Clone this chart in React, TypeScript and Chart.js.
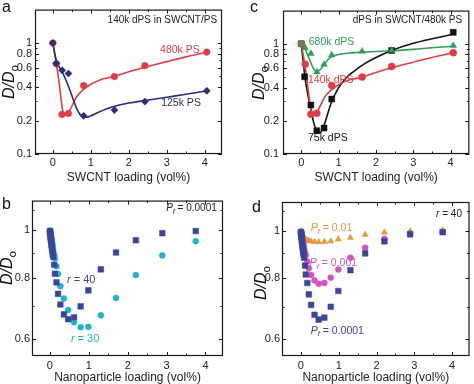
import React, { useEffect, useRef } from "react";
import { Chart, registerables } from "chart.js";
Chart.register(...registerables);

const FONT = '"Liberation Sans", Arial, Helvetica, sans-serif';

// ---------------- Panel a : 140k dPS in SWCNT/PS ----------------
const aLoading480kPS = [0, 0.09, 0.24, 0.41, 0.81, 1.62, 2.42, 4.05];
const aRatio480kPS = [1.0, 0.65, 0.227, 0.232, 0.414, 0.498, 0.625, 0.828];
const aLoading125kPS = [0, 0.09, 0.245, 0.41, 0.81, 1.62, 2.42, 4.05];
const aRatio125kPS = [1.0, 0.655, 0.567, 0.531, 0.221, 0.249, 0.297, 0.371];
const aFitLoading480k = [0, 0.05, 0.1, 0.15, 0.2, 0.25, 0.32, 0.41, 0.5, 0.63, 0.8, 1.0, 1.24, 1.62, 2.0, 2.42, 3.0, 3.5, 4.05];
const aFitRatio480k = [1.0, 0.8, 0.63, 0.48, 0.35, 0.255, 0.224, 0.235, 0.27, 0.33, 0.38, 0.425, 0.465, 0.5, 0.55, 0.605, 0.68, 0.75, 0.825];
const aFitLoading125k = [0, 0.05, 0.1, 0.2, 0.28, 0.36, 0.45, 0.55, 0.63, 0.72, 0.8, 0.9, 1.0, 1.2, 1.6, 2.0, 2.42, 3.0, 3.5, 4.05];
const aFitRatio125k = [1.0, 0.8, 0.68, 0.58, 0.52, 0.45, 0.376, 0.3, 0.255, 0.226, 0.215, 0.215, 0.221, 0.238, 0.268, 0.288, 0.303, 0.325, 0.345, 0.37];

// ---------------- Panel c : dPS in SWCNT/480k PS ----------------
const cLoading680k = [0, 0.106, 0.257, 0.416, 0.61, 0.815, 1.63, 2.42, 4.07];
const cRatio680k = [1.0, 0.917, 0.815, 0.554, 0.649, 0.79, 0.855, 0.871, 0.962];
const cLoading140k = [0, 0.106, 0.257, 0.416, 0.815, 1.63, 2.42, 4.07];
const cRatio140k = [1.0, 0.653, 0.23, 0.234, 0.418, 0.499, 0.623, 0.831];
const cLoading75k = [0, 0.09, 0.257, 0.416, 0.61, 0.815, 2.42, 4.07];
const cRatio75k = [1.0, 0.502, 0.278, 0.163, 0.172, 0.315, 0.87, 1.27];
const cFitLoading680k = [0, 0.1, 0.2, 0.3, 0.4, 0.5, 0.6, 0.7, 0.8, 1.0, 1.3, 1.63, 2.0, 2.42, 3.0, 3.5, 4.07];
const cFitRatio680k = [1.0, 0.9, 0.75, 0.62, 0.56, 0.58, 0.64, 0.71, 0.76, 0.8, 0.825, 0.84, 0.85, 0.865, 0.89, 0.92, 0.95];
const cFitLoading140k = [0, 0.05, 0.1, 0.15, 0.2, 0.25, 0.32, 0.41, 0.5, 0.63, 0.8, 1.0, 1.24, 1.63, 2.0, 2.42, 3.0, 3.5, 4.07];
const cFitRatio140k = [1.0, 0.8, 0.63, 0.48, 0.35, 0.255, 0.224, 0.235, 0.27, 0.33, 0.38, 0.425, 0.465, 0.5, 0.55, 0.605, 0.68, 0.75, 0.83];
const cFitLoading75k = [0, 0.05, 0.1, 0.18, 0.25, 0.32, 0.4, 0.48, 0.56, 0.65, 0.8, 1.0, 1.2, 1.4, 1.7, 2.0, 2.42, 3.0, 3.5, 4.07];
const cFitRatio75k = [1.0, 0.7, 0.49, 0.34, 0.265, 0.2, 0.165, 0.155, 0.165, 0.2, 0.29, 0.4, 0.49, 0.56, 0.66, 0.75, 0.87, 1.01, 1.11, 1.22];

// ---------------- Panels b and d : nanoparticle loading ----------------
const npLoading = [0.002, 0.005, 0.008, 0.012, 0.016, 0.02, 0.025, 0.03, 0.036, 0.043, 0.05, 0.058, 0.066, 0.075, 0.086, 0.11, 0.13, 0.17, 0.21, 0.27, 0.36, 0.47, 0.62, 0.79, 0.99, 1.31, 1.7, 2.21, 2.89, 3.75];
const ratioR40Pf0001 = [0.995, 0.99, 0.985, 0.979, 0.973, 0.966, 0.958, 0.95, 0.941, 0.932, 0.922, 0.912, 0.903, 0.893, 0.882, 0.85, 0.815, 0.783, 0.742, 0.706, 0.674, 0.659, 0.665, 0.7, 0.754, 0.832, 0.9, 0.953, 0.985, 0.995];
const ratioR30Pf0001 = [0.997, 0.994, 0.991, 0.987, 0.983, 0.979, 0.974, 0.969, 0.963, 0.956, 0.949, 0.941, 0.933, 0.924, 0.906, 0.89, 0.875, 0.844, 0.814, 0.769, 0.726, 0.688, 0.65, 0.635, 0.636, 0.671, 0.728, 0.81, 0.888, 0.949];
const ratioR40Pf001 = [0.998, 0.996, 0.993, 0.99, 0.986, 0.982, 0.977, 0.972, 0.966, 0.96, 0.953, 0.946, 0.938, 0.93, 0.92, 0.905, 0.893, 0.866, 0.839, 0.813, 0.792, 0.78, 0.783, 0.803, 0.834, 0.882, 0.925, 0.964, 0.989, 0.997];
const ratioR40Pf01 = [1.0, 0.998, 0.996, 0.994, 0.992, 0.99, 0.988, 0.985, 0.983, 0.98, 0.978, 0.975, 0.973, 0.97, 0.968, 0.964, 0.961, 0.958, 0.955, 0.953, 0.951, 0.95, 0.951, 0.953, 0.962, 0.969, 0.983, 0.994, 1.0, 1.003];

// ---------------- Ticks ----------------
const xTickValues = [0, 1, 2, 3, 4];
const xMinorTickValues = [0.5, 1.5, 2.5, 3.5];
const yTicksSwcnt = [0.1, 0.2, 0.4, 0.6, 0.8, 1];
const yMinorSwcnt = [0.3, 0.5, 0.7, 0.9];
const yTicksNano = [0.6, 0.8, 1];
const yMinorNano = [0.7, 0.9, 1.1];

// ---------------- Colours ----------------
const RED = "#e03d45";
const NAVY = "#2b2b7c";
const GREEN = "#2e9e5b";
const BLACK = "#111111";
const SQ_BLUE = "#3a4698";
const CYAN = "#22b4c8";
const MAGENTA = "#d452c0";
const ORANGE = "#e8963a";

type Seg = { t: string; it?: boolean; sub?: boolean };
type Note = { segs: Seg[]; x: number; y: number; color: string; align: "left" | "right" | "center"; size: number };

const pts = (xs: number[], ys: number[]) => xs.map((x, i) => ({ x, y: ys[i] }));
const markers = (xs: number[], ys: number[], color: string, style: string, r: number) => ({
  data: pts(xs, ys),
  showLine: false,
  pointStyle: style,
  pointRadius: r,
  pointHoverRadius: r,
  backgroundColor: color,
  borderColor: color,
  borderWidth: 0.5,
});
const fit = (xs: number[], ys: number[], color: string) => ({
  data: pts(xs, ys),
  showLine: true,
  pointRadius: 0,
  pointHoverRadius: 0,
  borderColor: color,
  backgroundColor: color,
  borderWidth: 1.6,
  cubicInterpolationMode: "monotone",
  fill: false,
});

function drawRich(ctx: CanvasRenderingContext2D, segs: Seg[], x: number, y: number, size: number, color: string, align: string) {
  const fontFor = (s: Seg) => `${s.it ? "italic " : ""}${s.sub ? size * 0.72 : size}px ${FONT}`;
  let total = 0;
  for (const s of segs) {
    ctx.font = fontFor(s);
    total += ctx.measureText(s.t).width;
  }
  let cx = align === "right" ? x - total : align === "center" ? x - total / 2 : x;
  ctx.fillStyle = color;
  ctx.textBaseline = "middle";
  ctx.textAlign = "left";
  for (const s of segs) {
    ctx.font = fontFor(s);
    ctx.fillText(s.t, cx, s.sub ? y + size * 0.32 : y);
    cx += ctx.measureText(s.t).width;
  }
}

interface Spec {
  width: number;
  height: number;
  padding: { left: number; right: number; top: number; bottom: number };
  yAxisWidth: number;
  xAxisHeight: number;
  xMin: number;
  xMax: number;
  yMin: number;
  yMax: number;
  yTicks: number[];
  yMinor: number[];
  xTitle: string;
  xTickPad: number;
  yTickPad: number;
  titlePadBottom: number;
  datasets: any[];
  notes: Note[];
  letter: { t: string; x: number; y: number };
  yTitle: { x: number; y: number };
}

function decorations(spec: Spec) {
  return {
    id: "decor",
    afterDatasetsDraw(chart: any) {
      const ctx: CanvasRenderingContext2D = chart.ctx;
      const { left, right, top, bottom } = chart.chartArea;
      const xs = chart.scales.x;
      const ys = chart.scales.y;
      ctx.save();
      ctx.strokeStyle = "#1a1a1a";
      ctx.lineWidth = 1.2;
      ctx.strokeRect(left + 0.5, top + 0.5, right - left - 1, bottom - top - 1);
      ctx.lineWidth = 1;
      ctx.beginPath();
      const xTick = (vals: number[], len: number) => {
        for (const v of vals) {
          const px = Math.round(xs.getPixelForValue(v)) + 0.5;
          ctx.moveTo(px, bottom);
          ctx.lineTo(px, bottom - len);
          ctx.moveTo(px, top);
          ctx.lineTo(px, top + len);
        }
      };
      const yTick = (vals: number[], len: number) => {
        for (const v of vals) {
          const py = Math.round(ys.getPixelForValue(v)) + 0.5;
          ctx.moveTo(left, py);
          ctx.lineTo(left + len, py);
          ctx.moveTo(right, py);
          ctx.lineTo(right - len, py);
        }
      };
      xTick(xTickValues, 4);
      xTick(xMinorTickValues, 2.5);
      yTick(spec.yTicks, 4);
      yTick(spec.yMinor, 2.5);
      ctx.stroke();

      for (const n of spec.notes) {
        drawRich(ctx, n.segs, xs.getPixelForValue(n.x), ys.getPixelForValue(n.y), n.size, n.color, n.align);
      }

      // y-axis title D/Do, rotated
      ctx.save();
      ctx.translate(spec.yTitle.x, spec.yTitle.y);
      ctx.rotate(-Math.PI / 2);
      drawRich(ctx, [{ t: "D/D", it: true }, { t: "o", sub: true }], 0, 0, 16, "#111", "center");
      ctx.restore();

      // panel letter
      ctx.font = `16px ${FONT}`;
      ctx.fillStyle = "#111";
      ctx.textAlign = "left";
      ctx.textBaseline = "alphabetic";
      ctx.fillText(spec.letter.t, spec.letter.x, spec.letter.y);
      ctx.restore();
    },
  };
}

function makeConfig(spec: Spec): any {
  return {
    type: "scatter",
    data: { datasets: spec.datasets },
    plugins: [decorations(spec)],
    options: {
      animation: false,
      responsive: false,
      devicePixelRatio: 1,
      layout: { padding: spec.padding },
      plugins: { legend: { display: false }, tooltip: { enabled: false } },
      scales: {
        x: {
          type: "linear",
          min: spec.xMin,
          max: spec.xMax,
          afterBuildTicks: (s: any) => {
            s.ticks = xTickValues.map((v) => ({ value: v }));
          },
          afterFit: (s: any) => {
            s.height = spec.xAxisHeight;
          },
          grid: { display: false, drawTicks: false },
          border: { display: false },
          ticks: {
            autoSkip: false,
            maxRotation: 0,
            padding: spec.xTickPad,
            color: "#222",
            font: { family: FONT, size: 11 },
            callback: (v: number) => String(v),
          },
          title: {
            display: true,
            text: spec.xTitle,
            color: "#222",
            font: { family: FONT, size: 12 },
            padding: { top: 0, bottom: spec.titlePadBottom },
          },
        },
        y: {
          type: "logarithmic",
          min: spec.yMin,
          max: spec.yMax,
          afterBuildTicks: (s: any) => {
            s.ticks = spec.yTicks.map((v) => ({ value: v }));
          },
          afterFit: (s: any) => {
            s.width = spec.yAxisWidth;
          },
          grid: { display: false, drawTicks: false },
          border: { display: false },
          ticks: {
            autoSkip: false,
            padding: spec.yTickPad,
            color: "#222",
            font: { family: FONT, size: 11 },
            callback: (v: number) => String(v),
          },
        },
      },
    },
  };
}

const specA: Spec = {
  width: 237,
  height: 192,
  padding: { left: 0, right: 15, top: 1, bottom: 0 },
  yAxisWidth: 35,
  xAxisHeight: 38,
  xMin: -0.47,
  xMax: 4.45,
  yMin: 0.1,
  yMax: 2,
  yTicks: yTicksSwcnt,
  yMinor: yMinorSwcnt,
  xTitle: "SWCNT loading (vol%)",
  xTickPad: 2,
  yTickPad: 3,
  titlePadBottom: 7,
  datasets: [
    markers(aLoading125kPS, aRatio125kPS, NAVY, "rectRot", 3.6),
    markers(aLoading480kPS, aRatio480kPS, RED, "circle", 3.3),
    fit(aFitLoading125k, aFitRatio125k, NAVY),
    fit(aFitLoading480k, aFitRatio480k, RED),
  ],
  notes: [
    { segs: [{ t: "140k dPS in SWCNT/PS" }], x: 4.32, y: 1.62, color: "#222", align: "right", size: 10 },
    { segs: [{ t: "480k PS" }], x: 2.82, y: 0.867, color: RED, align: "left", size: 10.5 },
    { segs: [{ t: "125k PS" }], x: 2.85, y: 0.29, color: NAVY, align: "left", size: 10.5 },
  ],
  letter: { t: "a", x: 2, y: 12 },
  yTitle: { x: 10, y: 82 },
};

const specC: Spec = {
  width: 237,
  height: 192,
  padding: { left: 0, right: 3, top: 1, bottom: 0 },
  yAxisWidth: 46,
  xAxisHeight: 38,
  xMin: -0.49,
  xMax: 4.5,
  yMin: 0.1,
  yMax: 2,
  yTicks: yTicksSwcnt,
  yMinor: yMinorSwcnt,
  xTitle: "SWCNT loading (vol%)",
  xTickPad: 2,
  yTickPad: 4,
  titlePadBottom: 7,
  datasets: [
    markers(cLoading680k, cRatio680k, GREEN, "triangle", 3.8),
    markers(cLoading140k, cRatio140k, RED, "circle", 3.5),
    markers(cLoading75k, cRatio75k, BLACK, "rect", 4.2),
    fit(cFitLoading680k, cFitRatio680k, GREEN),
    fit(cFitLoading140k, cFitRatio140k, RED),
    fit(cFitLoading75k, cFitRatio75k, BLACK),
  ],
  notes: [
    { segs: [{ t: "dPS in SWCNT/480k PS" }], x: 4.31, y: 1.64, color: "#222", align: "right", size: 10 },
    { segs: [{ t: "680k dPS" }], x: 0.2, y: 1.03, color: GREEN, align: "left", size: 10.5 },
    { segs: [{ t: "140k dPS" }], x: 0.18, y: 0.467, color: RED, align: "left", size: 10.5 },
    { segs: [{ t: "75k dPS" }], x: 0.18, y: 0.138, color: BLACK, align: "left", size: 10.5 },
  ],
  letter: { t: "c", x: 13, y: 12 },
  yTitle: { x: 23, y: 83 },
};

const specB: Spec = {
  width: 237,
  height: 200,
  padding: { left: 0, right: 14, top: 8, bottom: 0 },
  yAxisWidth: 32,
  xAxisHeight: 36,
  xMin: -0.46,
  xMax: 4.45,
  yMin: 0.555,
  yMax: 1.147,
  yTicks: yTicksNano,
  yMinor: yMinorNano,
  xTitle: "Nanoparticle loading (vol%)",
  xTickPad: 3,
  yTickPad: 2,
  titlePadBottom: 7,
  datasets: [
    markers(npLoading, ratioR40Pf0001, SQ_BLUE, "rect", 4),
    markers(npLoading, ratioR30Pf0001, CYAN, "circle", 3),
  ],
  notes: [
    { segs: [{ t: "P", it: true }, { t: "f", it: true, sub: true }, { t: " = 0.0001" }], x: 4.29, y: 1.106, color: "#222", align: "right", size: 10 },
    { segs: [{ t: "r", it: true }, { t: " = 40" }], x: 0.44, y: 0.791, color: SQ_BLUE, align: "left", size: 11 },
    { segs: [{ t: "r", it: true }, { t: " = 30" }], x: 0.54, y: 0.601, color: CYAN, align: "left", size: 11 },
  ],
  letter: { t: "b", x: 2, y: 17 },
  yTitle: { x: 8, y: 76 },
};

const specD: Spec = {
  width: 237,
  height: 200,
  padding: { left: 0, right: 2, top: 10, bottom: 0 },
  yAxisWidth: 45,
  xAxisHeight: 36,
  xMin: -0.5,
  xMax: 4.46,
  yMin: 0.555,
  yMax: 1.147,
  yTicks: yTicksNano,
  yMinor: yMinorNano,
  xTitle: "Nanoparticle loading (vol%)",
  xTickPad: 3,
  yTickPad: 2,
  titlePadBottom: 7,
  datasets: [
    markers(npLoading, ratioR40Pf0001, SQ_BLUE, "rect", 4),
    markers(npLoading, ratioR40Pf001, MAGENTA, "circle", 3),
    markers(npLoading, ratioR40Pf01, ORANGE, "triangle", 3.6),
  ],
  notes: [
    { segs: [{ t: "r", it: true }, { t: " = 40" }], x: 4.26, y: 1.083, color: "#222", align: "right", size: 10 },
    { segs: [{ t: "P", it: true }, { t: "f", it: true, sub: true }, { t: " = 0.01" }], x: 0.26, y: 1.014, color: ORANGE, align: "left", size: 10.5 },
    { segs: [{ t: "P", it: true }, { t: "f", it: true, sub: true }, { t: " = 0.001" }], x: 0.235, y: 0.86, color: MAGENTA, align: "left", size: 10.5 },
    { segs: [{ t: "P", it: true }, { t: "f", it: true, sub: true }, { t: " = 0.0001" }], x: 0.26, y: 0.625, color: SQ_BLUE, align: "left", size: 10.5 },
  ],
  letter: { t: "d", x: 15, y: 20 },
  yTitle: { x: 25, y: 91 },
};

function Panel({ spec, left, top }: { spec: Spec; left: number; top: number }) {
  const ref = useRef<HTMLCanvasElement | null>(null);
  useEffect(() => {
    const chart = new Chart(ref.current as HTMLCanvasElement, makeConfig(spec));
    return () => chart.destroy();
  }, [spec]);
  return (
    <canvas
      ref={ref}
      width={spec.width}
      height={spec.height}
      style={{ position: "absolute", left, top, width: spec.width, height: spec.height }}
    />
  );
}

export default function App() {
  useEffect(() => {
    document.body.style.margin = "0";
    document.body.style.overflow = "hidden";
  }, []);
  return (
    <div style={{ position: "fixed", left: 0, top: 0, width: 474, height: 384, overflow: "hidden", background: "#fff" }}>
      <Panel spec={specA} left={0} top={0} />
      <Panel spec={specC} left={237} top={0} />
      <Panel spec={specB} left={0} top={192} />
      <Panel spec={specD} left={237} top={192} />
    </div>
  );
}
